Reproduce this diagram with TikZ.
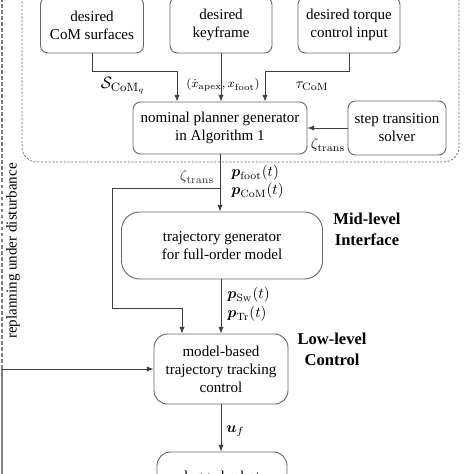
\documentclass[tikz,border=0pt]{standalone}
\usepackage{amsmath,bm}
\usepackage[no-math]{fontspec}
\setmainfont{Liberation Serif}
\usetikzlibrary{arrows.meta,calc}
\begin{document}
\begin{tikzpicture}[x=0.664pt,y=-0.664pt,
  box/.style={draw=black!60, line width=0.6pt, rounded corners=5pt, align=center, inner sep=0pt, font=\fontsize{10}{12}\selectfont},
  conn/.style={draw=black!75, line width=0.6pt},
  arr/.style={conn, -{Latex[length=4.5pt,width=3.6pt]}},
  lab/.style={inner sep=0pt, font=\fontsize{10}{12}\selectfont},
  lvl/.style={inner sep=0pt, align=center, font=\fontsize{11}{14}\selectfont\bfseries},
  outer/.style={draw=black!55, line width=0.5pt, dash pattern=on 1.5pt off 1pt, rounded corners=10pt},
  side/.style={draw=black!50, line width=1.4pt}
]
\clip (0,0) rectangle (474,474);
\fill[white] (0,0) rectangle (474,474);

% planning block
\node[outer, minimum width={437*0.664pt}, minimum height={182*0.664pt}] (plan) at (240.5,71) {};

\node[box, minimum width={103*0.664pt}, minimum height={56*0.664pt}] (b1) at (92,25) {desired\\CoM surfaces};
\node[box, minimum width={102*0.664pt}, minimum height={56*0.664pt}] (b2) at (221,25) {desired\\keyframe};
\node[box, minimum width={102*0.664pt}, minimum height={56*0.664pt}] (b3) at (349,25) {desired torque\\control input};

\node[box, minimum width={174*0.664pt}, minimum height={52*0.664pt}] (nom) at (220,128) {nominal planner generator\\in Algorithm 1};
\node[box, minimum width={98*0.664pt}, minimum height={54*0.664pt}] (step) at (397,128) {step transition\\solver};

\node[box, rounded corners=12pt, minimum width={201*0.664pt}, minimum height={67*0.664pt}] (mid) at (222,245.5) {trajectory generator\\for full-order model};
\node[box, rounded corners=9pt, minimum width={134*0.664pt}, minimum height={70*0.664pt}] (model) at (221,369) {model-based\\trajectory tracking\\control};
\node[box, rounded corners=9pt, minimum width={130*0.664pt}, minimum height={52*0.664pt}] (robot) at (222,478) {legged robot};

% level labels
\node[lvl] (midlvl) at (367,229.5) {Mid-level\\Interface};
\node[lvl] (lowlvl) at (332,349) {Low-level\\Control};

% top connectors
\coordinate (j1) at (177,71);
\coordinate (j3) at (265,71);
\draw[arr] (b1.south) |- (j1) -- (j1 |- nom.north);
\draw[arr] (b3.south) |- (j3) -- (j3 |- nom.north);
\draw[arr] (b2.south) -- (b2.south |- nom.north);
\node[lab, font=\fontsize{11}{13}\selectfont] (lS) at (123,86) {$\mathcal{S}_{\mathrm{CoM}_q}$};
\node[lab, font=\footnotesize] (lx) at (223,85) {$(\dot{x}_{\mathrm{apex}}, x_{\mathrm{foot}})$};
\node[lab] (lt) at (312,86) {$\tau_{\mathrm{CoM}}$};

\draw[arr] (step.west) -- (nom.east);
\node[lab] (lz1) at (328,145) {$\zeta_{\mathrm{trans}}$};

% spine
\draw[arr] (nom.south) -- (nom.south |- mid.north);
\coordinate (y188) at (0,188);
\coordinate (br) at (nom.south |- y188);
\coordinate (bA) at (112,188);
\coordinate (bB) at (112,308);
\coordinate (bC) at (182,308);
\draw[arr] (br) -- (bA) -- (bB) -- (bC) -- (bC |- model.north);
\node[lab, text=black!80] (lz2) at (197,177) {$\zeta_{\mathrm{trans}}$};
\node[lab, anchor=west] (lpf) at (231,173) {$\bm{p}_{\mathrm{foot}}(t)$};
\node[lab, anchor=west] (lpc) at (231,191) {$\bm{p}_{\mathrm{CoM}}(t)$};

\draw[arr] (mid.south -| model.north) -- (model.north);
\node[lab, anchor=west] (lpsw) at (227,295) {$\bm{p}_{\mathrm{Sw}}(t)$};
\node[lab, anchor=west] (lptr) at (227,314) {$\bm{p}_{\mathrm{Tr}}(t)$};

\draw[arr] (model.south) -- (model.south |- robot.north);
\node[lab, anchor=west] (luf) at (226,431) {$\bm{u}_f$};

% left feedback / replanning line
\coordinate (lx0) at (2,0);
\coordinate (ltop) at (2,-10);
\coordinate (lbot) at (2,500);
\coordinate (lm) at (lx0 |- model.west);
\draw[side, dash pattern=on 2.5pt off 1.5pt] (lm) -- (ltop);
\draw[side] (lbot) -- (lm);
\draw[arr] (lm) -- (model.west);
\node[lab, rotate=90] (lrep) at (13,251) {replanning under disturbance};
\end{tikzpicture}
\end{document}
